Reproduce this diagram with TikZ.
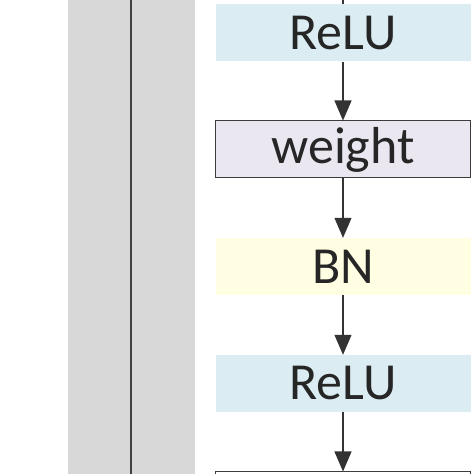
\documentclass[tikz,border=0pt]{standalone}
\usepackage{fontspec}
\setmainfont{Carlito}
\usetikzlibrary{arrows.meta}
\definecolor{reluc}{RGB}{219,237,243}
\definecolor{weightc}{RGB}{234,231,241}
\definecolor{bnc}{RGB}{255,253,226}
\definecolor{bandc}{RGB}{216,216,216}
\definecolor{edgec}{RGB}{60,60,60}
\tikzset{
  layer/.style={minimum width=255pt,minimum height=57pt,inner sep=0pt,
    font=\fontsize{52}{52}\selectfont,text=black!85},
  relubox/.style={layer,fill=reluc},
  weightbox/.style={layer,fill=weightc,draw=edgec,line width=1pt},
  bnbox/.style={layer,fill=bnc},
  flow/.style={draw=black!80,line width=1.2pt,-{Triangle[width=17pt,length=20pt]}}
}
\begin{document}
\begin{tikzpicture}[x=1pt,y=1pt]
\useasboundingbox (0,0) rectangle (474,474);
\clip (0,0) rectangle (474,474);
\fill[bandc] (68,0) rectangle (195,474);
\draw[black!75,line width=2pt] (130.5,-2) -- (130.5,476);
\coordinate (top) at (343,476);
\node[relubox] (relu1) at (343,474-33) {ReLU};
\node[weightbox] (weight) at (343,474-149.5) {weight};
\node[bnbox] (bn) at (343,474-266.5) {BN};
\node[relubox] (relu2) at (343,474-383.5) {ReLU};
\node[layer,draw=edgec,line width=1pt,fill=white,minimum height=60pt] (next) at (343,474-502) {};
\draw[draw=black!80,line width=1.2pt] (top) -- (relu1.north);
\draw[flow] (relu1) -- (weight);
\draw[flow] (weight) -- (bn);
\draw[flow] (bn) -- (relu2);
\draw[flow] (relu2) -- (next);
\end{tikzpicture}
\end{document}
